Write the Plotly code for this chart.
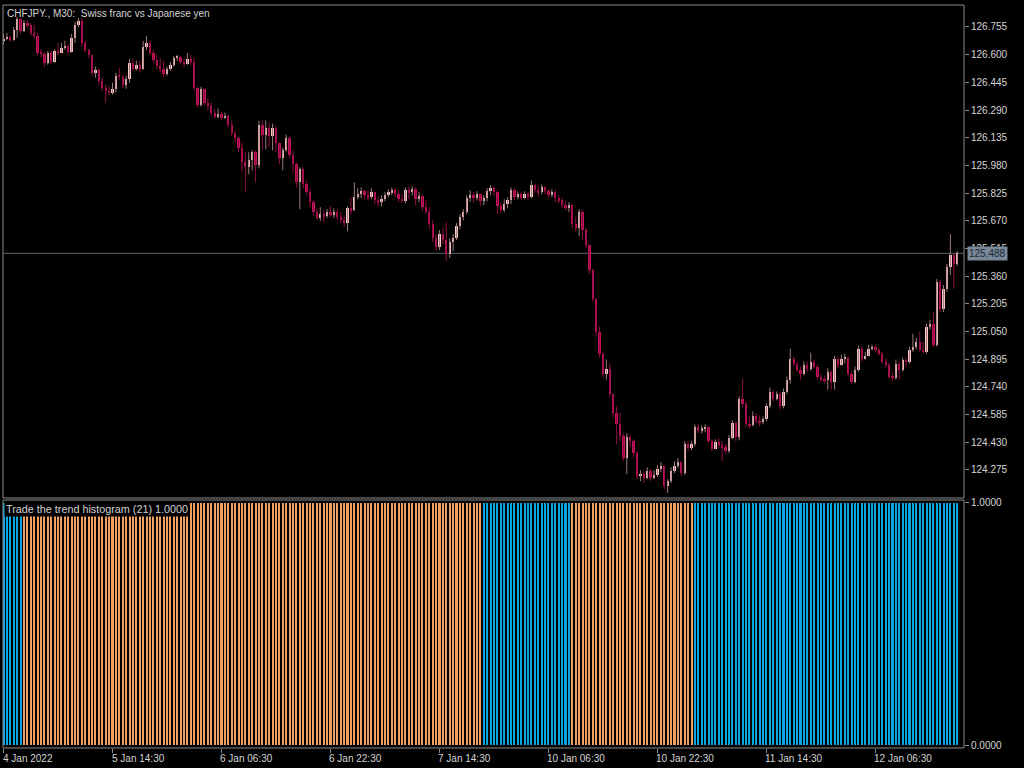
import plotly.graph_objects as go

# ---------------- data ----------------
symbol_title = "CHFJPY., M30:  Swiss franc vs Japanese yen"
indicator_title = "Trade the trend histogram (21) 1.0000"

first_open = 126.677
closes = [
    126.688, 126.699, 126.683, 126.738, 126.800, 126.733, 126.777, 126.766, 126.722, 126.705,
    126.610, 126.605, 126.554, 126.610, 126.560, 126.621, 126.610, 126.638, 126.649, 126.616,
    126.694, 126.766, 126.789, 126.666, 126.627, 126.599, 126.499, 126.515, 126.454, 126.415,
    126.398, 126.387, 126.409, 126.482, 126.476, 126.432, 126.465, 126.554, 126.521, 126.543,
    126.521, 126.644, 126.666, 126.610, 126.571, 126.538, 126.521, 126.493, 126.521, 126.543,
    126.582, 126.588, 126.560, 126.549, 126.577, 126.560, 126.415, 126.320, 126.409, 126.331,
    126.315, 126.276, 126.253, 126.270, 126.248, 126.259, 126.209, 126.164, 126.131, 126.080,
    125.997, 125.969, 126.008, 126.053, 125.980, 126.209, 126.153, 126.192, 126.142, 126.192,
    126.108, 126.019, 126.064, 126.136, 126.041, 125.986, 125.885, 125.958, 125.874, 125.830,
    125.774, 125.718, 125.685, 125.707, 125.696, 125.718, 125.701, 125.718, 125.690, 125.673,
    125.657, 125.740, 125.729, 125.802, 125.818, 125.835, 125.813, 125.802, 125.830, 125.785,
    125.774, 125.791, 125.813, 125.830, 125.841, 125.818, 125.791, 125.779, 125.841, 125.830,
    125.846, 125.791, 125.807, 125.746, 125.718, 125.651, 125.573, 125.523, 125.595, 125.562,
    125.484, 125.551, 125.573, 125.640, 125.690, 125.718, 125.796, 125.813, 125.796, 125.818,
    125.779, 125.796, 125.835, 125.852, 125.830, 125.751, 125.729, 125.763, 125.785, 125.841,
    125.802, 125.818, 125.796, 125.818, 125.802, 125.869, 125.841, 125.830, 125.857, 125.835,
    125.813, 125.830, 125.796, 125.785, 125.757, 125.746, 125.757, 125.651, 125.629, 125.718,
    125.618, 125.534, 125.395, 125.233, 125.049, 124.926, 124.815, 124.843, 124.698, 124.592,
    124.530, 124.463, 124.341, 124.458, 124.436, 124.369, 124.240, 124.252, 124.229, 124.268,
    124.229, 124.246, 124.279, 124.296, 124.185, 124.212, 124.268, 124.296, 124.318, 124.257,
    124.419, 124.397, 124.419, 124.514, 124.491, 124.508, 124.514, 124.436, 124.391, 124.430,
    124.413, 124.402, 124.380, 124.452, 124.536, 124.458, 124.670, 124.642, 124.530, 124.525,
    124.575, 124.547, 124.541, 124.558, 124.631, 124.714, 124.675, 124.698, 124.631, 124.714,
    124.781, 124.898, 124.870, 124.837, 124.815, 124.865, 124.843, 124.882, 124.854, 124.798,
    124.781, 124.776, 124.826, 124.770, 124.898, 124.865, 124.898, 124.904, 124.815, 124.770,
    124.837, 124.954, 124.898, 124.915, 124.954, 124.965, 124.949, 124.926, 124.882, 124.865,
    124.798, 124.792, 124.870, 124.837, 124.893, 124.882, 124.949, 124.965, 124.993, 124.949,
    124.937, 125.077, 125.094, 124.976, 125.328, 125.177, 125.289, 125.411, 125.478, 125.428,
    125.488,
]
highs = [
    126.716, 126.722, 126.705, 126.755, 126.811, 126.805, 126.794, 126.794, 126.777, 126.766,
    126.722, 126.632, 126.616, 126.621, 126.621, 126.632, 126.666, 126.666, 126.677, 126.660,
    126.716, 126.783, 126.805, 126.805, 126.677, 126.632, 126.599, 126.532, 126.521, 126.471,
    126.432, 126.421, 126.443, 126.499, 126.527, 126.488, 126.482, 126.577, 126.577, 126.566,
    126.566, 126.677, 126.705, 126.677, 126.627, 126.599, 126.582, 126.566, 126.532, 126.560,
    126.594, 126.599, 126.594, 126.577, 126.610, 126.599, 126.582, 126.421, 126.421, 126.409,
    126.354, 126.331, 126.298, 126.298, 126.281, 126.276, 126.265, 126.231, 126.175, 126.142,
    126.108, 126.053, 126.053, 126.064, 126.064, 126.231, 126.231, 126.231, 126.220, 126.214,
    126.203, 126.108, 126.080, 126.153, 126.147, 126.064, 125.997, 125.969, 125.969, 125.896,
    125.852, 125.785, 125.740, 125.746, 125.729, 125.735, 125.751, 125.740, 125.735, 125.718,
    125.701, 125.751, 125.802, 125.885, 125.852, 125.857, 125.846, 125.841, 125.852, 125.835,
    125.807, 125.813, 125.830, 125.846, 125.857, 125.852, 125.841, 125.818, 125.857, 125.863,
    125.863, 125.857, 125.830, 125.813, 125.785, 125.746, 125.673, 125.595, 125.618, 125.629,
    125.662, 125.573, 125.595, 125.657, 125.707, 125.735, 125.813, 125.841, 125.830, 125.835,
    125.824, 125.813, 125.852, 125.869, 125.863, 125.841, 125.774, 125.791, 125.802, 125.857,
    125.852, 125.835, 125.830, 125.835, 125.830, 125.896, 125.874, 125.869, 125.874, 125.863,
    125.846, 125.846, 125.841, 125.813, 125.796, 125.779, 125.774, 125.763, 125.690, 125.735,
    125.729, 125.629, 125.534, 125.400, 125.239, 125.077, 124.937, 124.893, 124.870, 124.703,
    124.631, 124.597, 124.480, 124.480, 124.475, 124.447, 124.380, 124.274, 124.268, 124.290,
    124.279, 124.274, 124.302, 124.318, 124.302, 124.224, 124.290, 124.324, 124.341, 124.324,
    124.436, 124.436, 124.436, 124.530, 124.536, 124.525, 124.530, 124.519, 124.447, 124.447,
    124.452, 124.436, 124.419, 124.469, 124.553, 124.547, 124.687, 124.787, 124.659, 124.575,
    124.603, 124.592, 124.581, 124.575, 124.647, 124.737, 124.725, 124.714, 124.709, 124.731,
    124.798, 124.954, 124.910, 124.882, 124.854, 124.882, 124.882, 124.932, 124.893, 124.865,
    124.815, 124.803, 124.843, 124.831, 124.915, 124.910, 124.921, 124.926, 124.910, 124.826,
    124.854, 124.971, 124.965, 124.937, 124.976, 124.976, 124.976, 124.960, 124.937, 124.898,
    124.876, 124.820, 124.893, 124.882, 124.904, 124.904, 124.965, 125.038, 125.015, 125.049,
    124.993, 125.094, 125.116, 125.160, 125.344, 125.339, 125.311, 125.428, 125.595, 125.489,
    125.501,
]
lows = [
    126.655, 126.683, 126.672, 126.677, 126.694, 126.716, 126.727, 126.750, 126.705, 126.688,
    126.594, 126.582, 126.532, 126.543, 126.549, 126.554, 126.599, 126.610, 126.627, 126.605,
    126.610, 126.666, 126.755, 126.644, 126.610, 126.582, 126.482, 126.471, 126.432, 126.398,
    126.331, 126.376, 126.376, 126.387, 126.460, 126.415, 126.409, 126.443, 126.510, 126.510,
    126.499, 126.515, 126.627, 126.599, 126.554, 126.521, 126.499, 126.471, 126.482, 126.510,
    126.532, 126.566, 126.549, 126.532, 126.543, 126.543, 126.398, 126.303, 126.309, 126.315,
    126.287, 126.253, 126.242, 126.242, 126.237, 126.242, 126.192, 126.142, 126.108, 126.053,
    125.941, 125.830, 125.930, 125.952, 125.885, 125.963, 126.064, 126.069, 126.080, 126.064,
    126.053, 125.986, 125.952, 126.053, 126.019, 125.941, 125.857, 125.735, 125.852, 125.813,
    125.746, 125.701, 125.673, 125.668, 125.662, 125.685, 125.690, 125.685, 125.673, 125.657,
    125.634, 125.612, 125.707, 125.724, 125.791, 125.796, 125.791, 125.785, 125.791, 125.763,
    125.751, 125.751, 125.779, 125.802, 125.813, 125.802, 125.774, 125.768, 125.768, 125.791,
    125.813, 125.757, 125.774, 125.724, 125.707, 125.623, 125.551, 125.501, 125.506, 125.540,
    125.445, 125.462, 125.501, 125.562, 125.623, 125.673, 125.707, 125.774, 125.774, 125.785,
    125.751, 125.757, 125.779, 125.813, 125.807, 125.707, 125.712, 125.718, 125.740, 125.763,
    125.785, 125.791, 125.785, 125.791, 125.785, 125.796, 125.824, 125.807, 125.818, 125.818,
    125.796, 125.802, 125.774, 125.768, 125.740, 125.729, 125.718, 125.629, 125.612, 125.584,
    125.562, 125.517, 125.372, 125.216, 125.021, 124.904, 124.792, 124.781, 124.681, 124.569,
    124.419, 124.436, 124.324, 124.252, 124.402, 124.346, 124.224, 124.212, 124.201, 124.224,
    124.212, 124.224, 124.235, 124.263, 124.168, 124.146, 124.201, 124.257, 124.285, 124.240,
    124.246, 124.380, 124.385, 124.408, 124.480, 124.480, 124.486, 124.424, 124.380, 124.391,
    124.397, 124.324, 124.363, 124.369, 124.447, 124.436, 124.441, 124.625, 124.514, 124.508,
    124.519, 124.536, 124.519, 124.530, 124.547, 124.620, 124.659, 124.664, 124.614, 124.620,
    124.698, 124.759, 124.854, 124.820, 124.781, 124.803, 124.826, 124.831, 124.843, 124.781,
    124.770, 124.759, 124.725, 124.725, 124.725, 124.848, 124.859, 124.870, 124.798, 124.753,
    124.759, 124.826, 124.882, 124.893, 124.910, 124.943, 124.932, 124.915, 124.870, 124.848,
    124.787, 124.776, 124.781, 124.781, 124.826, 124.854, 124.870, 124.937, 124.949, 124.937,
    124.926, 124.926, 125.060, 124.965, 124.965, 125.160, 125.160, 125.272, 125.367, 125.289,
    125.417,
]

time_tick_index = [0, 32, 64, 96, 128, 160, 192, 224, 256]
time_tick_text = ["4 Jan 2022", "5 Jan 14:30", "6 Jan 06:30", "6 Jan 22:30", "7 Jan 14:30",
                  "10 Jan 06:30", "10 Jan 22:30", "11 Jan 14:30", "12 Jan 06:30"]

price_ticks = [124.275, 124.430, 124.585, 124.740, 124.895, 125.050, 125.205, 125.360, 125.515,
               125.670, 125.825, 125.980, 126.135, 126.290, 126.445, 126.600, 126.755]
last_price = 125.488

hist_value = 1.0
hist_ticks = [0.0, 1.0]
# trend state of the histogram: (first bar, last bar, state)
trend_segments = [(0, 5, "up"), (6, 140, "down"), (141, 166, "up"), (167, 202, "down"), (203, 280, "up")]

# ---------------- styles ----------------
BG = "#000000"
FG = "#d4d4d4"
FRAME = "#8a8a8a"
BULL_BODY = "#ffc4c4"
BEAR_BODY = "#c8125a"
BULL_WICK = "#9c7a7a"
BEAR_WICK = "#8e0e44"
UP_COL = "#0aa6e2"
DOWN_COL = "#f0a060"
FONT = "Liberation Sans"

n = len(closes)
idx = list(range(n))
# each M30 bar opens where the previous one closed
opens = [first_open] + closes[:-1]
is_bull = [c >= o for o, c in zip(opens, closes)]

body_base = [min(o, c) for o, c in zip(opens, closes)]
body_len = [max(abs(c - o), 0.004) for o, c in zip(opens, closes)]
body_col = [BULL_BODY if b else BEAR_BODY for b in is_bull]


def wick_xy(sel):
    xs, ys = [], []
    for i in idx:
        if is_bull[i] == sel:
            xs += [i, i, None]
            ys += [lows[i], highs[i], None]
    return xs, ys


bx, by = wick_xy(True)
rx, ry = wick_xy(False)

hist_col = [None] * n
for a, b, state in trend_segments:
    for i in range(a, b + 1):
        hist_col[i] = UP_COL if state == "up" else DOWN_COL

fig = go.Figure()
fig.add_trace(go.Scatter(x=rx, y=ry, mode="lines", line=dict(color=BEAR_WICK, width=1),
                         hoverinfo="skip", showlegend=False, xaxis="x", yaxis="y"))
fig.add_trace(go.Scatter(x=bx, y=by, mode="lines", line=dict(color=BULL_WICK, width=1),
                         hoverinfo="skip", showlegend=False, xaxis="x", yaxis="y"))
fig.add_trace(go.Bar(x=idx, y=body_len, base=body_base, width=0.68,
                     marker=dict(color=body_col, line=dict(width=0)),
                     showlegend=False, xaxis="x", yaxis="y"))
fig.add_trace(go.Bar(x=idx, y=[hist_value] * n, width=0.6,
                     marker=dict(color=hist_col, line=dict(width=0)),
                     showlegend=False, xaxis="x", yaxis="y2"))

top_dom = [0.33646, 1.0]
bot_dom = [0.0, 0.33378]
tickfont = dict(family=FONT, size=10, color=FG)

fig.update_layout(
    width=1024, height=768, autosize=False,
    paper_bgcolor=BG, plot_bgcolor=BG,
    margin=dict(l=3, r=60, t=2, b=20),
    barmode="overlay", bargap=0,
    showlegend=False,
    xaxis=dict(domain=[0, 1], anchor="y2", range=[-0.15, 282.0], showgrid=False, zeroline=False,
               tickmode="array", tickvals=time_tick_index, showticklabels=False,
               ticks="outside", ticklen=4, tickcolor=FRAME, showline=False, fixedrange=True),
    yaxis=dict(domain=top_dom, anchor="x", side="right", range=[124.118, 126.878],
               showgrid=False, zeroline=False, tickmode="array", tickvals=price_ticks,
               ticktext=[f"{v:.3f}" for v in price_ticks], ticks="outside", ticklen=4,
               tickcolor=FRAME, tickfont=tickfont, showline=False),
    yaxis2=dict(domain=bot_dom, anchor="x", side="right", range=[-0.0123, 1.0123],
                showgrid=False, zeroline=False, tickmode="array", tickvals=hist_ticks,
                ticktext=[f"{v:.4f}" for v in hist_ticks], ticks="outside", ticklen=4,
                tickcolor=FRAME, tickfont=tickfont, showline=False),
)

shapes = [
    dict(type="rect", xref="paper", yref="paper", x0=0, x1=1, y0=top_dom[0], y1=top_dom[1],
         line=dict(color=FRAME, width=1), fillcolor="rgba(0,0,0,0)", layer="above"),
    dict(type="rect", xref="paper", yref="paper", x0=0, x1=1, y0=bot_dom[0], y1=bot_dom[1],
         line=dict(color=FRAME, width=1), fillcolor="rgba(0,0,0,0)", layer="above"),
    dict(type="line", xref="paper", yref="y", x0=0, x1=1, y0=last_price, y1=last_price,
         line=dict(color="#5a6670", width=1), layer="below"),
]
fig.update_layout(shapes=shapes)

ann = [
    dict(text=symbol_title, x=0, y=1, xref="paper", yref="paper", xanchor="left", yanchor="top",
         xshift=2, yshift=-1, showarrow=False, font=dict(family=FONT, size=10, color=FG)),
    dict(text=indicator_title, x=0, y=bot_dom[1], xref="paper", yref="paper", xanchor="left",
         yanchor="top", xshift=1, yshift=-1, showarrow=False, bgcolor=BG, borderpad=1,
         font=dict(family=FONT, size=10.8, color=FG)),
    dict(text=f"{last_price:.3f}", x=1, y=last_price, xref="paper", yref="y", xanchor="left",
         yanchor="middle", xshift=3, showarrow=False, bgcolor="#778899", borderpad=1,
         font=dict(family=FONT, size=10, color="#1c2630")),
]
for i, t in zip(time_tick_index, time_tick_text):
    ann.append(dict(text=t, x=i, y=0, xref="x", yref="paper", xanchor="left", yanchor="top",
                    xshift=-3, yshift=-3, showarrow=False, font=dict(family=FONT, size=10, color=FG)))
fig.update_layout(annotations=ann)

fig.write_html("out.html", config={"displayModeBar": False},
               post_script="document.body.style.margin='0';document.body.style.overflow='hidden';")
